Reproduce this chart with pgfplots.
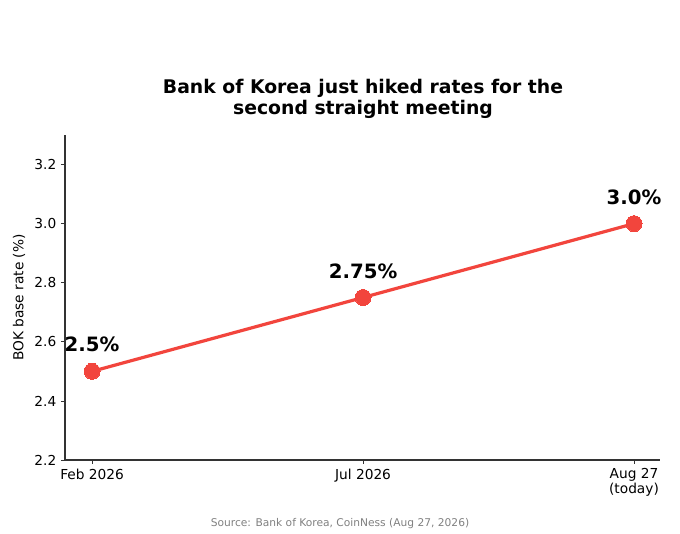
\documentclass[border=0pt]{standalone}
\usepackage{pgfplots}
\pgfplotsset{compat=1.18}
\usepackage{fontspec}
\setmainfont{DejaVu Sans}
\definecolor{rateRed}{HTML}{F2453D}
\definecolor{axGray}{HTML}{333333}
\begin{document}
\begin{tikzpicture}[x=0.75pt,y=0.75pt]
\path[use as bounding box] (0,0) rectangle (680,534);
\begin{axis}[
  at={(65pt*0.75,74pt*0.75)}, anchor=south west,
  scale only axis, width=446.25pt, height=243.75pt,
  xmin=-0.1, xmax=2.096, ymin=2.2, ymax=3.3,
  axis x line*=bottom, axis y line*=left,
  axis line style={axGray, line width=0.8pt, -},
  xtick={0,1,2},
  xticklabels={Feb 2026, Jul 2026, {Aug 27\\(today)}},
  xticklabel style={align=center, font=\fontsize{10.3}{11.3}\selectfont, text=black},
  ytick={2.2,2.4,2.6,2.8,3.0,3.2},
  yticklabels={2.2,2.4,2.6,2.8,3.0,3.2},
  yticklabel style={font=\fontsize{10.3}{11.3}\selectfont, text=black},
  tick align=outside, major tick length=3pt,
  tick style={axGray, line width=0.6pt},
  ylabel={BOK base rate (\%)},
  ylabel style={font=\fontsize{10.3}{12}\selectfont},
  clip=false,
]
\addplot[rateRed, line width=2.4pt, mark=*, mark size=6pt, mark options={fill=rateRed, draw=rateRed, line width=0pt}]
  coordinates {(0,2.5) (1,2.75) (2,3.0)};
\node[font=\bfseries\fontsize{14.8}{16}\selectfont] at (axis cs:0,2.5) [yshift=20pt] {2.5\%};
\node[font=\bfseries\fontsize{14.8}{16}\selectfont] at (axis cs:1,2.75) [yshift=20pt] {2.75\%};
\node[font=\bfseries\fontsize{14.8}{16}\selectfont] at (axis cs:2,3.0) [yshift=20pt] {3.0\%};
\end{axis}
\node[font=\bfseries\fontsize{14.1}{15.5}\selectfont, align=center] at (363,435) {Bank of Korea just hiked rates for the\\second straight meeting};
\node[font=\fontsize{8}{9}\selectfont, text=gray] at (340,10) {Source: Bank of Korea, CoinNess (Aug 27, 2026)};
\end{tikzpicture}
\end{document}
